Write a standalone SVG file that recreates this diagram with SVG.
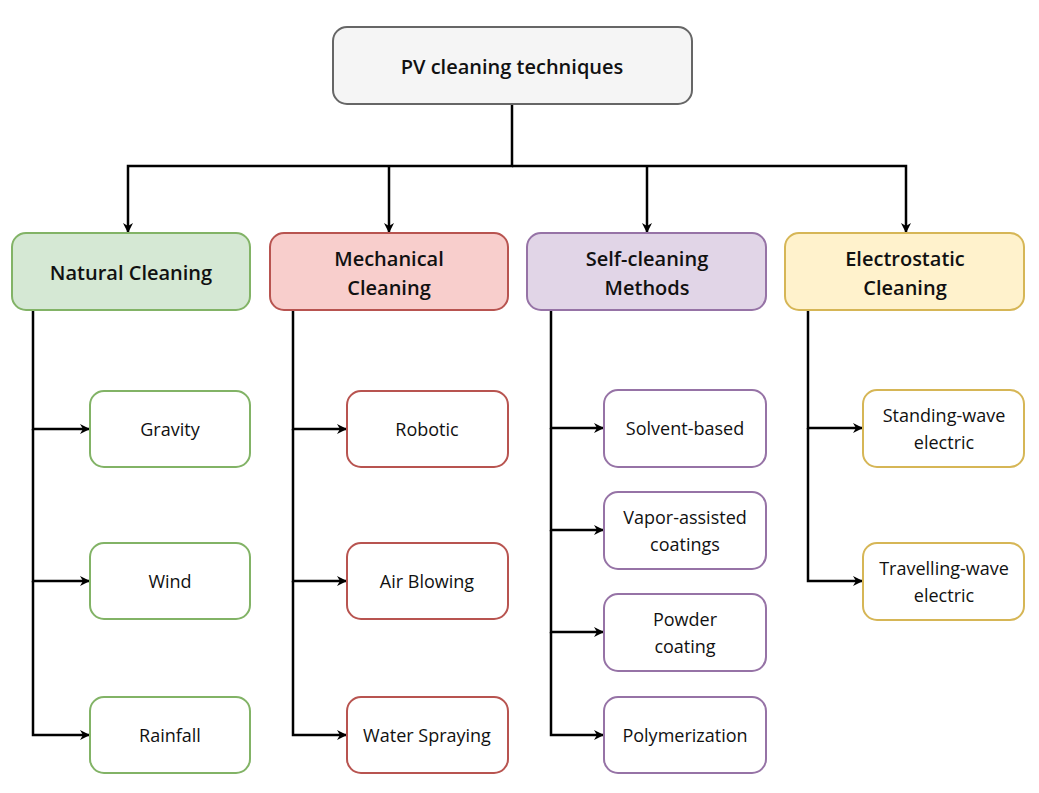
<svg xmlns="http://www.w3.org/2000/svg" width="1039" height="793" viewBox="0 0 1039 793">
<style>
text{font-family:"Open Sans","Noto Sans",sans-serif;fill:#111;text-anchor:middle;dominant-baseline:central}
.t{font-size:20px;font-weight:600}.c{font-size:18px}
.g rect{stroke:#82b366}.r rect{stroke:#b85450}.p rect{stroke:#9673a6}.y rect{stroke:#d6b656}
rect{stroke-width:2}
.conn path{fill:none;stroke:#000;stroke-width:2.5;marker-end:url(#a)}
</style>
<defs><marker id="a" markerWidth="10" markerHeight="10" refX="9" refY="5" orient="auto" markerUnits="userSpaceOnUse"><path d="M0,0 L10,5 L0,10 L3,5 Z" fill="#000"/></marker></defs>
<rect width="1039" height="793" fill="#fff"/>
<g class="conn">
<path d="M512,104 V166 H128 V232" /><path d="M389,166 V232"/><path d="M647,166 V232"/><path d="M512,166 H906 V232"/>
<path d="M33,310 V429 H89"/><path d="M33,429 V581 H89"/><path d="M33,581 V735 H89"/>
<path d="M293,310 V429 H346"/><path d="M293,429 V581 H346"/><path d="M293,581 V735 H346"/>
<path d="M551,310 V428 H603"/><path d="M551,428 V530 H603"/><path d="M551,530 V632 H603"/><path d="M551,632 V735 H603"/>
<path d="M808,310 V428 H862"/><path d="M808,428 V581 H862"/>
</g>
<g id="root"><rect x="333" y="27" width="359" height="77" rx="14" fill="#f5f5f5" stroke="#666"/><text class="t" x="512" y="66">PV cleaning techniques</text></g>
<g id="natural" class="g"><rect x="12" y="233" width="238" height="77" rx="14" fill="#d5e8d4"/><text class="t" x="131" y="272">Natural Cleaning</text></g>
<g id="mechanical" class="r"><rect x="270" y="233" width="238" height="77" rx="14" fill="#f8cecc"/><text class="t" x="389" y="258">Mechanical</text><text class="t" x="389" y="287">Cleaning</text></g>
<g id="self" class="p"><rect x="527" y="233" width="239" height="77" rx="14" fill="#e1d5e7"/><text class="t" x="647" y="258">Self-cleaning</text><text class="t" x="647" y="287">Methods</text></g>
<g id="electro" class="y"><rect x="785" y="233" width="239" height="77" rx="14" fill="#fff2cc"/><text class="t" x="905" y="258">Electrostatic</text><text class="t" x="905" y="287">Cleaning</text></g>
<g class="g" fill="#fff">
<g id="gravity"><rect x="90" y="391" width="160" height="76" rx="14"/><text class="c" x="170" y="429">Gravity</text></g>
<g id="wind"><rect x="90" y="543" width="160" height="76" rx="14"/><text class="c" x="170" y="581">Wind</text></g>
<g id="rainfall"><rect x="90" y="697" width="160" height="76" rx="14"/><text class="c" x="170" y="735">Rainfall</text></g>
</g>
<g class="r" fill="#fff">
<g id="robotic"><rect x="347" y="391" width="161" height="76" rx="14"/><text class="c" x="427" y="429">Robotic</text></g>
<g id="air"><rect x="347" y="543" width="161" height="76" rx="14"/><text class="c" x="427" y="581">Air Blowing</text></g>
<g id="water"><rect x="347" y="697" width="161" height="76" rx="14"/><text class="c" x="427" y="735">Water Spraying</text></g>
</g>
<g class="p" fill="#fff">
<g id="solvent"><rect x="604" y="390" width="162" height="77" rx="14"/><text class="c" x="685" y="428">Solvent-based</text></g>
<g id="vapor"><rect x="604" y="492" width="162" height="77" rx="14"/><text class="c" x="685" y="517">Vapor-assisted</text><text class="c" x="685" y="544">coatings</text></g>
<g id="powder"><rect x="604" y="594" width="162" height="77" rx="14"/><text class="c" x="685" y="619">Powder</text><text class="c" x="685" y="646">coating</text></g>
<g id="poly"><rect x="604" y="697" width="162" height="76" rx="14"/><text class="c" x="685" y="735">Polymerization</text></g>
</g>
<g class="y" fill="#fff">
<g id="standing"><rect x="863" y="390" width="161" height="77" rx="14"/><text class="c" x="944" y="415">Standing-wave</text><text class="c" x="944" y="442">electric</text></g>
<g id="travelling"><rect x="863" y="543" width="161" height="77" rx="14"/><text class="c" x="944" y="568">Travelling-wave</text><text class="c" x="944" y="595">electric</text></g>
</g>
</svg>
